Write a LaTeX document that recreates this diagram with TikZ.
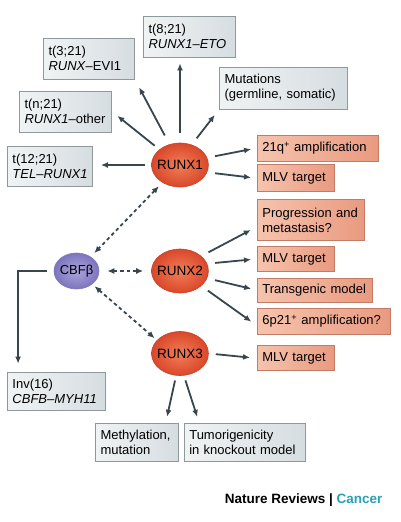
\documentclass[tikz,border=0pt]{standalone}
\usepackage{fontspec}
\setmainfont{Liberation Sans}
\usetikzlibrary{shapes.geometric,arrows.meta,positioning,calc}
\definecolor{gboxA}{HTML}{F0F3F4}
\definecolor{gboxB}{HTML}{D6DDE1}
\definecolor{gboxline}{HTML}{8E989D}
\definecolor{oboxA}{HTML}{F6C3AD}
\definecolor{oboxB}{HTML}{E99A80}
\definecolor{oboxline}{HTML}{C27C66}
\definecolor{runxA}{HTML}{F27E58}
\definecolor{runxB}{HTML}{D9482A}
\definecolor{runxline}{HTML}{C4452B}
\definecolor{cbfA}{HTML}{ABA5DA}
\definecolor{cbfB}{HTML}{7C75BE}
\definecolor{arrcol}{HTML}{37464F}
\definecolor{natteal}{HTML}{2A9FB5}

\begin{document}
\begin{tikzpicture}[
        x=1pt, y=-1pt,
        >={Latex[length=7pt,width=6pt]},
        font=\fontsize{13}{15}\selectfont,
        gbox/.style={
            rectangle,
            draw=gboxline,
            line width=0.8pt,
            left color=gboxA,
            right color=gboxB,
            align=left,
            inner xsep=5pt,
            inner ysep=0pt
        },
        obox/.style={
            rectangle,
            draw=oboxline,
            line width=0.8pt,
            left color=oboxA,
            right color=oboxB,
            align=left,
            inner xsep=5pt,
            inner ysep=0pt
        },
        runx/.style={
            ellipse,
            draw=runxline,
            line width=0.6pt,
            inner color=runxA,
            outer color=runxB,
            minimum width=57pt,
            minimum height=44pt,
            inner xsep=-3pt,
            inner ysep=0pt,
            font=\fontsize{13.5}{15}\selectfont
        },
        cbf/.style={
            ellipse,
            draw=cbfB,
            line width=0.6pt,
            inner color=cbfA,
            outer color=cbfB,
            minimum width=45pt,
            minimum height=36pt,
            inner xsep=-1pt,
            inner ysep=0pt
        },
        arr/.style={
            draw=arrcol,
            ->,
            line width=1.8pt
        },
        dlink/.style={
            draw=arrcol,
            <->,
            line width=1.8pt,
            dash pattern=on 3.5pt off 3pt
        }
    ]
    \useasboundingbox (0,0) rectangle (400,522);

    % Hubs
    \node [runx] (runx1) at (180,165) {RUNX1};
    \node [runx] (runx2) at (180,271) {RUNX2};
    \node [runx] (runx3) at (180,353.5) {RUNX3};
    \node [cbf] (cbf) at (76.5,271) {CBFβ};

    % Translocations and mutations
    \node [gbox, text width=82pt, minimum height=41pt] (eto) at (189.5,36.5) {t(8;21)\\\mbox{\textit{RUNX1–ETO}}};
    \node [gbox, text width=81pt, minimum height=41pt] (evi) at (89,58.5) {t(3;21)\\\mbox{\textit{RUNX}–EVI1}};
    \node [gbox, text width=82pt, minimum height=41pt] (other) at (65.5,111.5) {t(n;21)\\\mbox{\textit{RUNX1}–other}};
    \node [gbox, text width=75pt, minimum height=40pt] (tel) at (50,166) {t(12;21)\\\mbox{\textit{TEL–RUNX1}}};
    \node [gbox, text width=118pt, minimum height=42pt] (mut) at (283.5,88) {Mutations\\(germline, somatic)};
    \node [gbox, text width=88pt, minimum height=38pt] (inv) at (56.5,391) {Inv(16)\\\mbox{\textit{CBFB–MYH11}}};
    \node [gbox, text width=73pt, minimum height=38pt] (meth) at (137,442) {Methylation,\\mutation};
    \node [gbox, text width=111pt, minimum height=38pt, right=5pt of meth] (tum) {Tumorigenicity\\in knockout model};

    % Tumour column
    \node [obox, text width=111pt, minimum height=26pt, anchor=west] (q21) at (257,148) {21q\textsuperscript{+} amplification};
    \node [obox, text width=67pt, minimum height=27pt, below=3pt of q21.south west, anchor=north west] (mlva) {MLV target};
    \node [obox, text width=97pt, minimum height=41pt, below=7pt of mlva.south west, anchor=north west] (prog) {Progression and\\metastasis?};
    \node [obox, text width=67pt, minimum height=25pt, below=5pt of prog.south west, anchor=north west] (mlvb) {MLV target};
    \node [obox, text width=105pt, minimum height=24pt, below=6pt of mlvb.south west, anchor=north west] (trans) {Transgenic model};
    \node [obox, text width=123pt, minimum height=26pt, below=5pt of trans.south west, anchor=north west] (p6) {6p21\textsuperscript{+} amplification?};
    \node [obox, text width=67pt, minimum height=25pt, below=11pt of p6.south west, anchor=north west] (mlvc) {MLV target};

    % Credit line
    \node [font=\fontsize{13.5}{16}\selectfont\bfseries, anchor=east] (credit) at (386,500) {Nature Reviews | \textcolor{natteal}{Cancer}};

    % RUNX1 arrows
    \draw [arr, shorten <=10pt, shorten >=6pt] (runx1.north) -- (runx1.north |- eto.south);
    \draw [arr, shorten <=10pt, shorten >=9pt] (runx1.117) -- (evi.south east);
    \draw [arr, shorten <=6pt, shorten >=7pt] (runx1.143) -- (other.east);
    \draw [arr, shorten <=6pt, shorten >=8pt] (runx1.west) -- (runx1.west -| tel.east);
    \draw [arr, shorten <=8pt, shorten >=7pt] (runx1.60) -- (mut.south west);
    \draw [arr, shorten <=8pt, shorten >=6pt] (runx1.15) -- (q21.west);
    \draw [arr, shorten <=8pt, shorten >=6pt] (runx1.-15) -- (mlva.west);

    % RUNX2 arrows
    \draw [arr, shorten <=8pt, shorten >=7pt] (runx2.35) -- (prog.187);
    \draw [arr, shorten <=8pt, shorten >=6pt] (runx2.15) -- (mlvb.west);
    \draw [arr, shorten <=8pt, shorten >=6pt] (runx2.-15) -- (trans.west);
    \draw [arr, shorten <=8pt, shorten >=7pt] (runx2.-35) -- (p6.184);

    % RUNX3 arrows
    \draw [arr, shorten <=7pt, shorten >=7pt] (runx3.east) -- (mlvc.west);
    \draw [arr, shorten <=5pt, shorten >=6pt] (runx3.-100) -- (meth.34);
    \draw [arr, shorten <=5pt, shorten >=6pt] (runx3.-80) -- (tum.157);

    % CBFb partners
    \draw [dlink, shorten <=5pt, shorten >=5pt] (runx1.225) -- (cbf.45);
    \draw [dlink, shorten <=8pt, shorten >=8pt] (cbf.east) -- (runx2.west);
    \draw [dlink, shorten <=3pt, shorten >=3pt] (cbf.-40) -- (runx3.150);
    \coordinate (bend) at ([xshift=11pt]inv.north west);
    \draw [arr, shorten >=8pt] ([xshift=-7pt]cbf.west) -| (bend);

\end{tikzpicture}
\end{document}
